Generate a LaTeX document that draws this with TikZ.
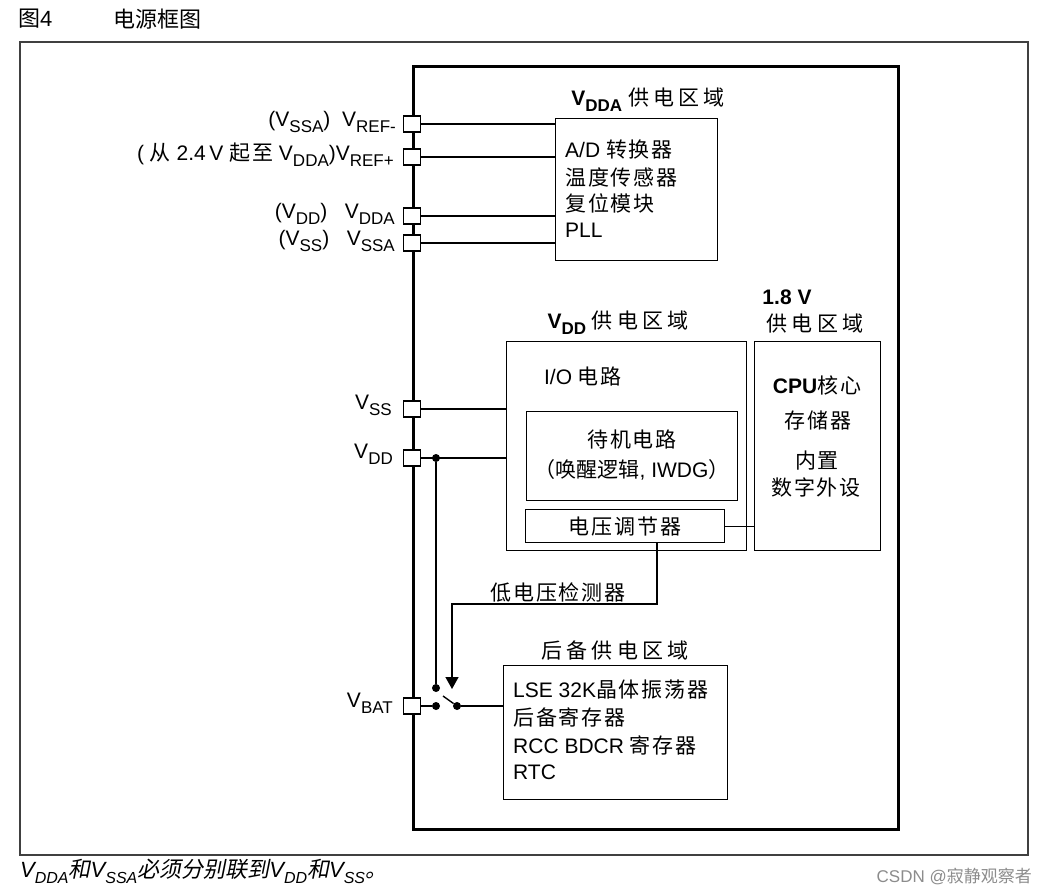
\documentclass[tikz,border=0pt]{standalone}
\usepackage{fontspec}
\setmainfont{Liberation Sans}
\newfontfamily\zhf[LetterSpace=9]{Noto Sans CJK SC}
\newfontfamily\zht[LetterSpace=20]{Noto Sans CJK SC}
\newfontfamily\zhplain{Noto Sans CJK SC}
\newfontfamily\zhit[FakeSlant=0.2]{Noto Sans CJK SC}
\newcommand\zh[1]{{\zhf #1}}
\newcommand\zhtt[1]{{\zht #1}}
\newcommand\sbs[1]{\raisebox{-0.28em}{\fontsize{17}{17}\selectfont #1}}
\newcommand\sbsi[1]{\raisebox{-0.28em}{\fontsize{16}{16}\selectfont #1}}
\usetikzlibrary{arrows.meta}
\begin{document}
\begin{tikzpicture}[x=1pt,y=-1pt,
  font=\fontsize{21}{25}\selectfont,
  box/.style={draw, line width=1.4pt, inner sep=0, anchor=north west},
  pinbox/.style={draw, line width=1.4pt, fill=white, minimum width=17pt, minimum height=16pt, inner sep=0},
  wire/.style={line width=1.4pt},
  dotmark/.style={circle, fill, inner sep=0, minimum size=8pt},
  lbl/.style={inner sep=0, anchor=east},
  txt/.style={inner sep=0, anchor=west},
  ctxt/.style={inner sep=0},
]
\useasboundingbox (0,0) rectangle (1048,895);

% header
\node[txt, font=\fontsize{22}{25}\selectfont] (fig) at (18,19) {{\zhplain 图}4};
\node[txt, font=\fontsize{22}{25}\selectfont] (figtitle) at (113,19) {\zhplain 电源框图};

% outer frame
\draw[draw=black!75, line width=1.4pt] (20,42) rectangle (1028,855);

% chip
\node[box, line width=2.8pt, minimum width=485pt, minimum height=763pt] (chip) at (412,65) {};

% VDDA domain
\node[box, minimum width=162pt, minimum height=142pt] (adc) at (555,118) {};
\node[ctxt] (adct) at (648,100) {\textbf{V\sbs{DDA}} \zhtt{供电区域}};
\node[txt] at (565,150) {A/D \zh{转换器}};
\node[txt] at (565,177) {\zh{温度传感器}};
\node[txt] at (565,203) {\zh{复位模块}};
\node[txt] at (565,230) {PLL};

% VDD domain
\node[box, minimum width=240pt, minimum height=209pt] (vdd) at (506,341) {};
\node[ctxt] at (618,323) {\textbf{V\sbs{DD}} \zhtt{供电区域}};
\node[ctxt] at (583,376) {I/O \zh{电路}};
\node[box, minimum width=211pt, minimum height=89pt] (stby) at (526,411) {};
\node[ctxt] at (632,439) {\zh{待机电路}};
\node[ctxt] at (632,470) {{\zhplain （唤醒逻辑}, IWDG{\zhplain ）}};
\node[box, minimum width=199pt, minimum height=33pt] (reg) at (525,509) {};
\node[ctxt] at (reg.center) {\zh{电压调节器}};

% 1.8V domain
\node[box, minimum width=126pt, minimum height=209pt] (core) at (754,341) {};
\node[ctxt] at (787,297) {\textbf{1.8 V}};
\node[ctxt] at (815,324) {\zhtt{供电区域}};
\node[ctxt] at (817,385) {\textbf{CPU}\zh{核心}};
\node[ctxt] at (818,420) {\zh{存储器}};
\node[ctxt] at (817,461) {\zh{内置}};
\node[ctxt] at (816,487) {\zh{数字外设}};

% backup domain
\node[box, minimum width=224pt, minimum height=134pt] (bkp) at (503,665) {};
\node[ctxt] at (615,650) {\zhtt{后备供电区域}};
\node[txt] at (513,690) {LSE 32K\zh{晶体振荡器}};
\node[txt] at (513,717) {\zh{后备寄存器}};
\node[txt] at (513,745) {RCC BDCR \zh{寄存器}};
\node[txt] at (513,772) {RTC};

% pins
\node[pinbox] (prefm) at (412,124) {};
\node[pinbox] (prefp) at (412,157) {};
\node[pinbox] (pvdda) at (412,216) {};
\node[pinbox] (pvssa) at (412,243) {};
\node[pinbox] (pvss) at (412,409) {};
\node[pinbox] (pvdd) at (412,458) {};
\node[pinbox] (pvbat) at (412,706) {};

% pin labels
\node[lbl] at (396,122) {(V\sbs{SSA})\ \ V\sbs{REF-}};
\node[lbl] at (394,155) {(\ \zh{从} 2.4\,V \zh{起至} V\sbs{DDA})V\sbs{REF+}};
\node[lbl] at (395,214) {(V\sbs{DD})\ \ \ V\sbs{DDA}};
\node[lbl] at (395,241) {(V\sbs{SS})\ \ \ V\sbs{SSA}};
\node[lbl] at (392,405) {V\sbs{SS}};
\node[lbl] at (393,454) {V\sbs{DD}};
\node[lbl] at (393,703) {V\sbs{BAT}};

% wires to VDDA domain
\draw[wire] (prefm.east) -- (prefm.east -| adc.west);
\draw[wire] (prefp.east) -- (prefp.east -| adc.west);
\draw[wire] (pvdda.east) -- (pvdda.east -| adc.west);
\draw[wire] (pvssa.east) -- (pvssa.east -| adc.west);

% wires to VDD domain
\draw[wire] (pvss.east) -- (pvss.east -| vdd.west);
\draw[wire] (pvdd.east) -- (pvdd.east -| vdd.west);
\draw[wire] (reg.east) -- (reg.east -| core.west);

% switch
\node[dotmark] (jvdd) at (436,458) {};
\node[dotmark] (sa) at (436,688) {};
\node[dotmark] (sb) at (436,706) {};
\node[dotmark] (sc) at (457,706) {};
\coordinate (blade) at (443,696);
\draw[wire] (jvdd) -- (sa);
\draw[wire] (pvbat.east) -- (sb);
\draw[wire] (blade) -- (sc);
\draw[wire] (sc) -- (sc -| bkp.west);

% low voltage detector
\coordinate (lvd1) at (657,604);
\coordinate (lvd2) at (452,604);
\coordinate (lvdtip) at (452,689);
\draw[wire, -{Triangle[length=12pt,width=13pt]}] (reg.south -| lvd1) -- (lvd1) -- (lvd2) -- (lvdtip);
\node[ctxt] at (558,592) {\zh{低电压检测器}};

% footnote
\node[txt, font=\fontsize{22}{24}\selectfont] (fn) at (20,871) {\textit{V\sbsi{DDA}}{\zhit 和}\textit{V\sbsi{SSA}}{\zhit 必须分别联到}\textit{V\sbsi{DD}}{\zhit 和}\textit{V\sbsi{SS}}{\zhit 。}};

% watermark
\node[inner sep=0, anchor=east, text=black!45, font=\fontsize{17}{20}\selectfont] (wm) at (1032,876) {CSDN @{\zhplain 寂静观察者}};
\end{tikzpicture}
\end{document}
